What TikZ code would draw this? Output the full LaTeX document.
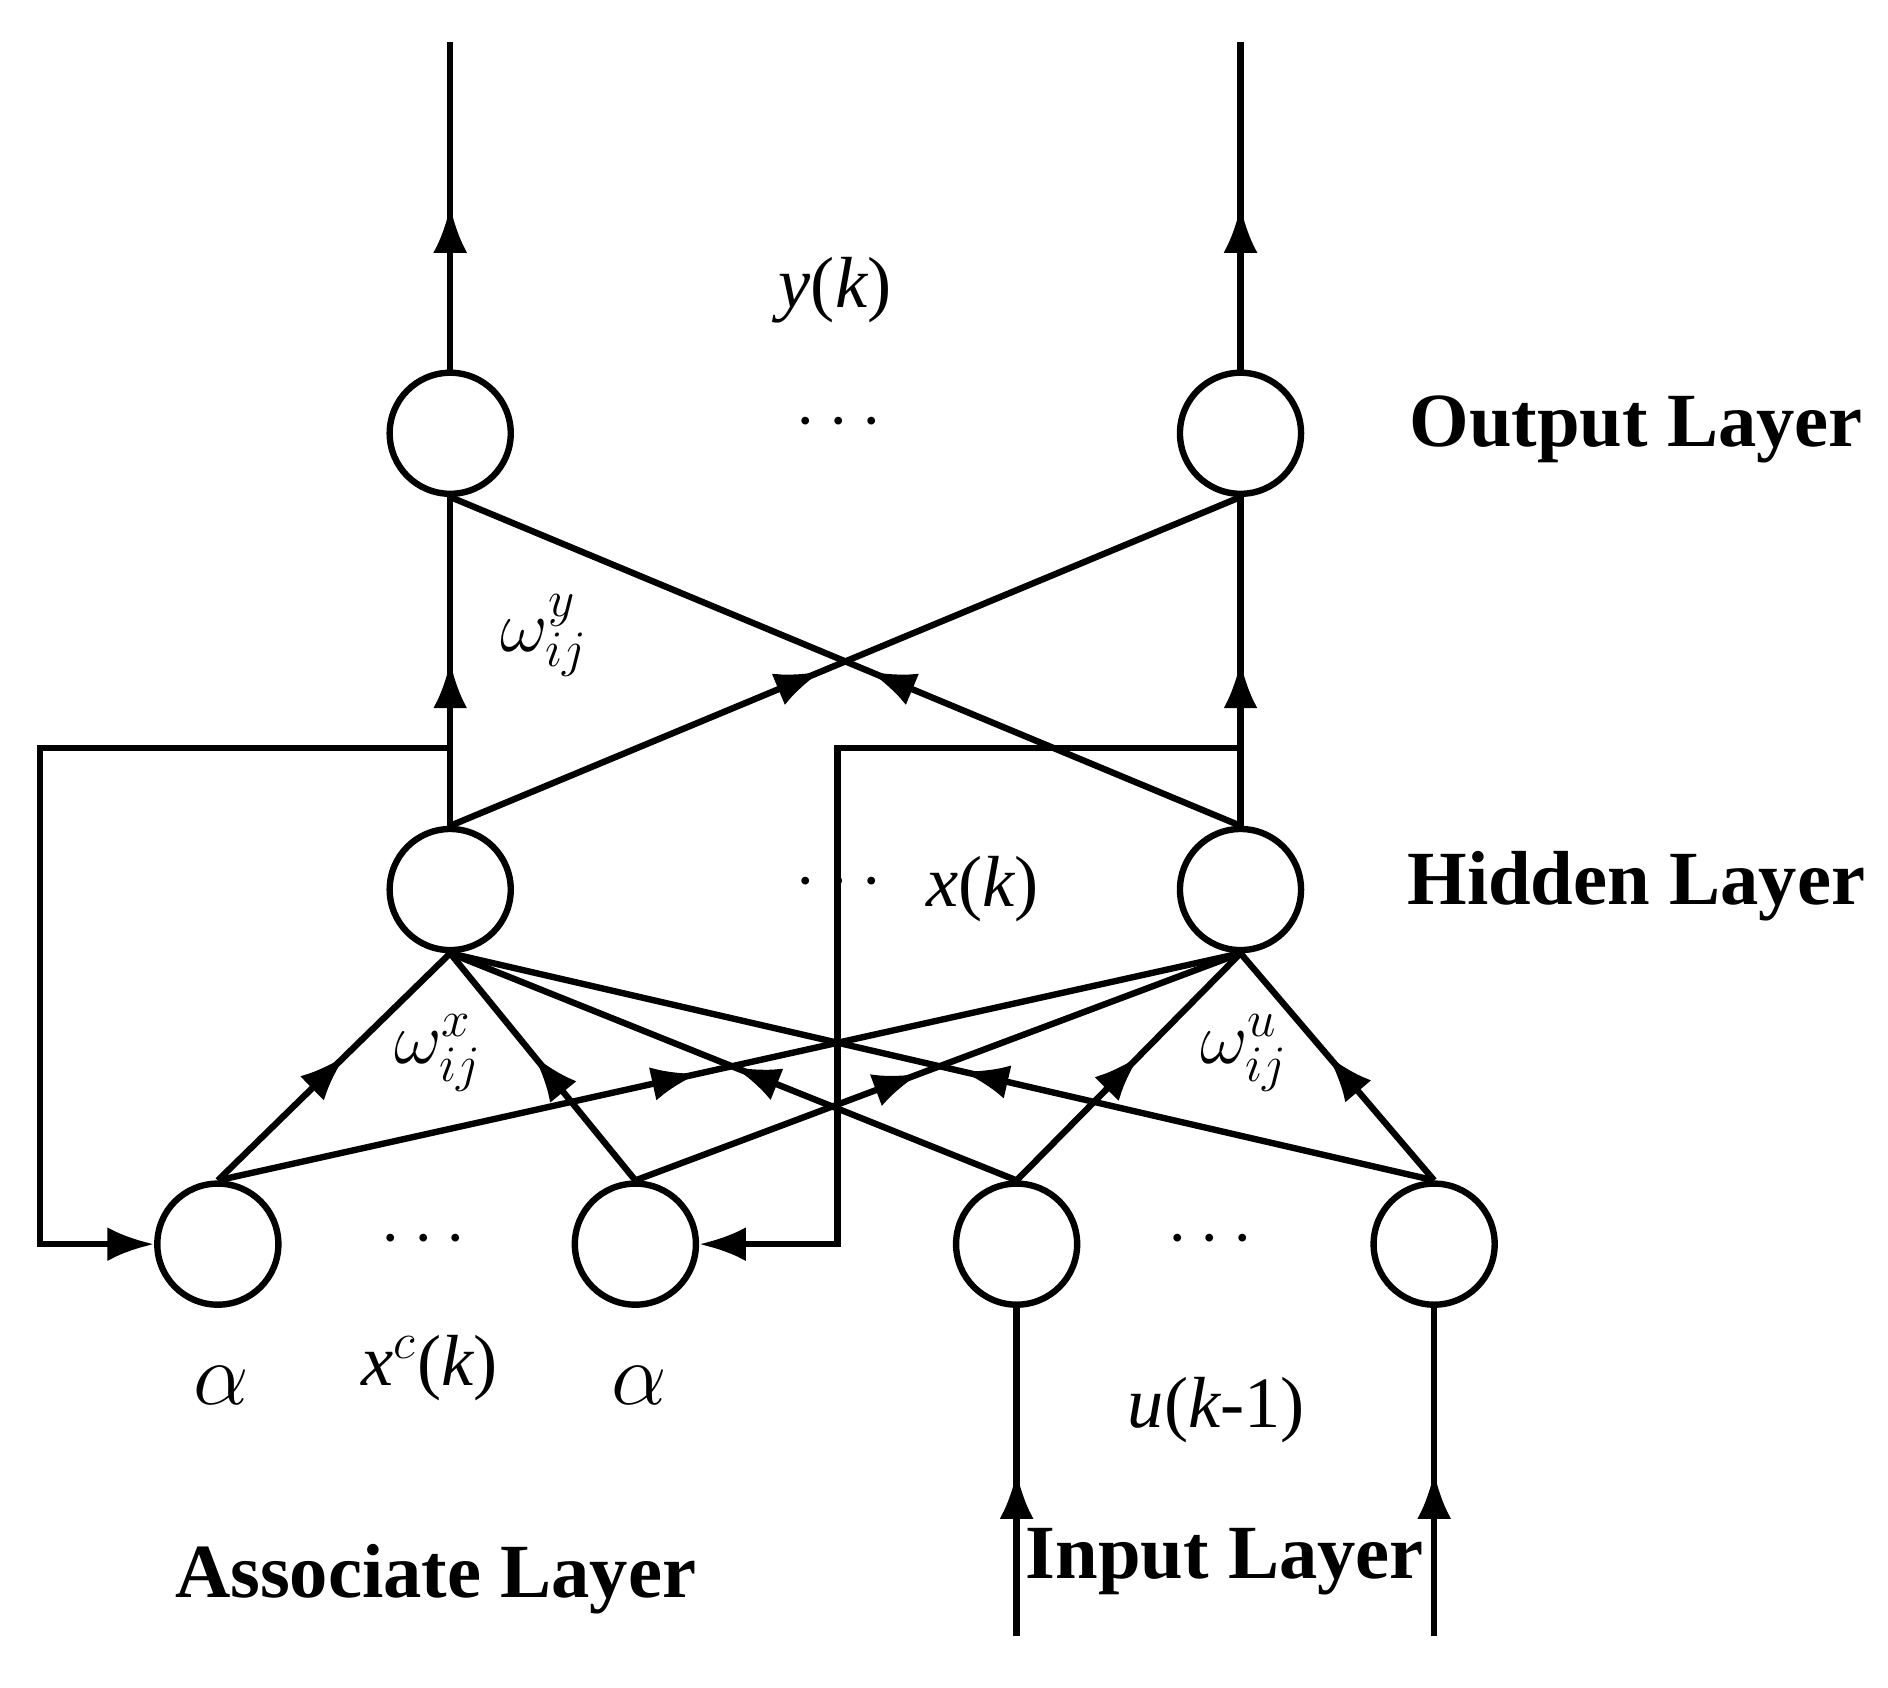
\documentclass[tikz,border=0pt]{standalone}
\usepackage{fontspec}
\setmainfont{Liberation Serif}
\usetikzlibrary{decorations.markings,arrows.meta}
\begin{document}
\begin{tikzpicture}[x=0.01cm,y=-0.01cm,
  neuron/.style={circle,draw,line width=1.5pt,minimum size=1cm,inner sep=0pt},
  ln/.style={line width=1.5pt},
  mid/.style={ln,postaction={decorate},decoration={markings,mark=at position #1 with {\arrow{Latex[length=11pt,width=8pt]}}}},
  mid/.default=0.5,
  lbl/.style={font=\fontsize{17}{20}\selectfont\itshape},
  lay/.style={font=\fontsize{18}{22}\selectfont\bfseries},
  dots/.style={font=\fontsize{16}{20}\selectfont}]
\useasboundingbox (0,0) rectangle (1560,1394);
\node[neuron] (O1) at (372,358) {};
\node[neuron] (O2) at (1025,358) {};
\node[neuron] (H1) at (372,735) {};
\node[neuron] (H2) at (1025,735) {};
\node[neuron] (A1) at (180,1028) {};
\node[neuron] (A2) at (525,1028) {};
\node[neuron] (I1) at (840,1028) {};
\node[neuron] (I2) at (1185,1028) {};
\coordinate (t1) at (372,35);
\coordinate (t2) at (1025,35);
\coordinate (b1) at (840,1352);
\coordinate (b2) at (1185,1352);
\draw[mid=0.5] (O1.north) -- (t1);
\draw[mid=0.5] (O2.north) -- (t2);
\draw[mid=0.5] (H1.north) -- (O1.south);
\draw[mid=0.5] (H2.north) -- (O2.south);
\draw[mid=0.47] (H1.north) -- (O2.south);
\draw[mid=0.47] (H2.north) -- (O1.south);
\coordinate (f1) at (372,618);
\coordinate (f2) at (1025,618);
\draw[ln,-{Latex[length=11pt,width=8pt]}] (f1) -- (33,618) -- (33,1028) -- (A1.west);
\draw[ln,-{Latex[length=11pt,width=8pt]}] (f2) -- (692,618) -- (692,1028) -- (A2.east);
\draw[mid=0.55] (A1.north) -- (H1.south);
\draw[mid=0.47] (A1.north) -- (H2.south);
\draw[mid=0.55] (A2.north) -- (H1.south);
\draw[mid=0.47] (A2.north) -- (H2.south);
\draw[mid=0.5] (I1.north) -- (H1.south);
\draw[mid=0.55] (I1.north) -- (H2.south);
\draw[mid=0.48] (I2.north) -- (H1.south);
\draw[mid=0.55] (I2.north) -- (H2.south);
\draw[mid=0.5] (b1) -- (I1.south);
\draw[mid=0.5] (b2) -- (I2.south);
\node[lbl] (yk) at (690,240) {y\upshape(\itshape k\upshape)};
\node[dots] (d1) at (693,350) {$\cdots$};
\node[dots] (d2) at (693,730) {$\cdots$};
\node[dots] (d3) at (350,1025) {$\cdots$};
\node[dots] (d4) at (1000,1025) {$\cdots$};
\node[lbl] (xk) at (812,735) {x\upshape(\itshape k\upshape)};
\node[lbl] (wy) at (450,525) {$\omega^{y}_{ij}$};
\node[lbl] (wx) at (362,870) {$\omega^{x}_{ij}$};
\node[lbl] (wu) at (1028,870) {$\omega^{u}_{ij}$};
\node[lbl] (xc) at (355,1130) {x$^{c}$\upshape(\itshape k\upshape)};
\node[lbl,font=\fontsize{22}{24}\selectfont] (al1) at (183,1145) {$\alpha$};
\node[lbl,font=\fontsize{22}{24}\selectfont] (al2) at (528,1145) {$\alpha$};
\node[lbl] (uk) at (1005,1165) {u\upshape(\itshape k\upshape-1)};
\node[lay] (OL) at (1352,355) {Output Layer};
\node[lay] (HL) at (1352,732) {Hidden Layer};
\node[lay] (AL) at (360,1305) {Associate Layer};
\node[lay] (IL) at (1012,1290) {Input Layer};
\end{tikzpicture}
\end{document}
